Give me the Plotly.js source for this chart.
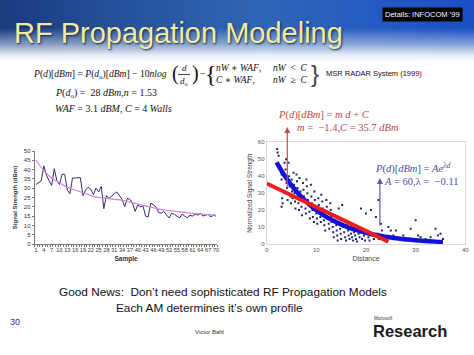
<!DOCTYPE html>
<html>
<head>
<meta charset="utf-8">
<script src="https://cdn.plot.ly/plotly-3.0.1.min.js"></script>
<style>
html,body{margin:0;padding:0;background:#fff;}
#wrap{width:474px;height:355px;position:relative;overflow:hidden;
background:
 linear-gradient(to bottom, rgba(255,255,255,0) 0px, rgba(255,255,255,0) 28px, rgba(215,226,238,0.55) 44px, rgba(240,244,248,0.95) 55px, #ffffff 62px),
 linear-gradient(to right, #1b3a7e 0%, #27559f 30%, #3065b5 55%, #2459c2 80%, #1a4fc6 100%) 0 0/100% 62px no-repeat,
 #ffffff;}
#chart{width:474px;height:355px;}
</style>
</head>
<body>
<div id="wrap"><div id="chart"></div></div>
<script>
// ---- Left chart data: signal strength per sample ----
const samples = [1,2,3,4,5,6,7,8,9,10,11,12,13,14,15,16,17,18,19,20,21,22,23,24,25,26,27,28,29,30,31,32,33,34,35,36,37,38,39,40,41,42,43,44,45,46,47,48,49,50,51,52,53,54,55,56,57,58,59,60,61,62,63,64,65,66,67,68,69,70];
const measured = [32,33,34,42,37,34,31.5,40.5,34,32,37.5,37.5,29,27,35.5,35.5,35.5,35.7,26,29,30.5,29.5,26.5,30,28,31,19,26,24.5,26,27,28,26,24,20,24.5,24,22,17.5,21,20,20.5,15,14.5,22,21,20,17,16.5,17.5,16,14,16.5,16,15,14,16,15,14,15.5,15,16,15.5,16.5,15,15.5,16,14.5,15.5,15];
const fitSamples = [1,4,7,10,13,16,19,22,25,28,31,34,37,40,43,46,49,52,55,58,61,64,67,70];
const fitValues  = [45,39.5,35.5,33,30.5,29,27.5,26,25,24.5,24,23.5,22.5,21.5,20.5,19.5,18.5,18,17.5,17,16.5,16.2,15.8,15.5];
const sampleTicks = [1,4,7,10,13,16,19,22,25,28,31,34,37,40,43,46,49,52,55,58,61,64,67,70];

// ---- Right chart data: normalized signal strength vs distance ----
const dist = [2.1,2.2,2.4,2.6,2.8,3.0,3.0,3.1,3.2,3.0,
 3.6,3.8,3.9,4.0,4.1,4.2,4.2,4.4,4.5,4.6,4.8,4.9,5.0,5.1,5.2,
 5.4,5.5,5.6,5.7,5.8,6.0,6.1,6.2,6.3,6.4,6.5,6.6,6.8,6.9,7.0,7.1,
 7.3,7.4,7.5,7.6,7.8,7.9,8.0,8.1,8.2,8.3,8.5,8.6,8.7,8.9,9.0,9.1,
 9.2,9.3,9.5,9.6,9.7,9.8,10.0,10.1,10.2,10.4,10.5,10.6,10.8,10.9,11.0,
 11.2,11.3,11.4,11.5,11.6,11.8,12.0,12.1,12.2,12.3,12.5,12.6,12.8,12.9,13.0,
 13.1,13.3,13.4,13.5,13.7,13.8,14.0,14.1,14.2,14.3,14.5,14.6,14.8,14.9,15.0,
 15.2,15.3,15.5,15.6,15.8,16.0,16.2,16.4,16.5,16.7,16.9,17.0,17.2,17.4,17.6,17.8,18.0,18.2,
 18.5,18.7,19.0,19.2,19.4,19.6,19.8,20.0,20.2,20.5,20.7,21.0,21.3,21.6,22.0,22.3,22.6,
 22.5,23.0,23.2,23.6,24.0,24.5,25.0,25.5,26.0,26.5,27.5,28.0,29.0,30.0,30.5,31.0,32.0,33.0,34.0,34.5,35.0,35.5];
const strength = [56,54,52,46,44,41,38,27,24,22,
 48,44,50,36,33,30,26,48,40,34,28,24,38,31,27,
 42,35,30,25,21,41,37,33,28,24,20,39,31,26,22,17,
 36,32,28,25,21,18,38,34,30,26,23,19,15,35,28,24,
 20,16,13,31,26,22,18,15,12,27,23,19,16,13,29,
 25,21,18,14,11,8,26,22,19,15,12,9,24,20,16,
 13,10,7,4,17,14,11,8,5,2,21,12,9,6,3,
 23,14,10,7,4,2,11,8,5,3,9,6,4,2,7,5,3,1.5,
 6,4,21,3,9,5,2,18,7,4,2,20,5,3,16,6,3,
 26,12,8,4,2,10,8,5,8,3,5,2,9,14,5,4,3,4,9,5,6,3];
const linFitD = [0,24.5];
const linFitS = [35.7,1.4];
const expFitD = [2,3,4,5,6,7,8,9,10,12,14,16,18,20,22,24,26,28,30,32,34,35.5];
const expFitS = [48.1,43.1,38.6,34.6,31.0,27.8,24.9,22.3,20.0,16.0,12.9,10.3,8.3,6.6,5.3,4.3,3.4,2.8,2.2,1.8,1.4,1.2];

const W = 474, H = 355;
const SERIF = '"Liberation Serif", "DejaVu Serif", serif';
const SANS = '"Liberation Sans", Arial, sans-serif';
function A(text, x, y, o) {
  o = o || {};
  return Object.assign({
    xref:'paper', yref:'paper', x:x/W, y:1-y/H, text:text, showarrow:false,
    xanchor:o.xanchor||'left', yanchor:'middle',
    font:{family:o.family||SANS, size:o.size||10, color:o.color||'#111'}
  }, o.extra||{});
}

const traces = [
  {x:samples, y:measured, type:'scatter', mode:'lines', xaxis:'x', yaxis:'y',
   line:{color:'#2f3270', width:1}, hoverinfo:'skip'},
  {x:fitSamples, y:fitValues, type:'scatter', mode:'lines', xaxis:'x', yaxis:'y',
   line:{color:'#d47ddb', width:1.1, shape:'spline'}, hoverinfo:'skip'},
  {x:dist, y:strength, type:'scatter', mode:'markers', xaxis:'x2', yaxis:'y2',
   marker:{color:'#1f2866', size:2, symbol:'square'}, hoverinfo:'skip'},
  {x:expFitD, y:expFitS, type:'scatter', mode:'lines', xaxis:'x2', yaxis:'y2',
   line:{color:'#1010d8', width:4.5, shape:'spline'}, hoverinfo:'skip'},
  {x:linFitD, y:linFitS, type:'scatter', mode:'lines', xaxis:'x2', yaxis:'y2',
   line:{color:'#ee1c1c', width:4}, hoverinfo:'skip'}
];

const tickFont = {family:SANS, size:6, color:'#333'};
const red = '#c9444a', blue = '#4c4ea0';

const annotations = [
  A('RF Propagation Modeling', 12, 33, {
     extra:{font:{family:SANS, size:29, color:'#f2eca0', shadow:'1px 1px 2px #142850'}}}),
  A('Details: INFOCOM \u201999', 422, 14.5, {xanchor:'center', size:7.5, color:'#ffffff',
     extra:{bgcolor:'#000000', borderpad:2}}),
  // main formula
  A('<i>P</i>(<i>d</i>)[<i>dBm</i>] = <i>P</i>(<i>d</i><sub>o</sub>)[<i>dBm</i>] \u2212 10<i>nlog</i>', 31, 74, {family:SERIF, size:9.6}),
  A('(', 170, 74, {family:SERIF, size:20}),
  A('<i>d</i>', 184, 68, {family:SERIF, size:9, xanchor:'center'}),
  A('<i>d</i><sub>o</sub>', 184, 81, {family:SERIF, size:9, xanchor:'center'}),
  A(')', 190, 74, {family:SERIF, size:20}),
  A('\u2212', 198, 74, {family:SERIF, size:10}),
  A('{', 203, 74, {family:SERIF, size:24}),
  A('<i>nW</i> \u2217 <i>WAF</i>,', 214, 68, {family:SERIF, size:9.5}),
  A('<i>C</i> \u2217 <i>WAF</i>,', 214, 80, {family:SERIF, size:9.5}),
  A('<i>nW</i>  <  <i>C</i>', 271, 68, {family:SERIF, size:9.5}),
  A('<i>nW</i>  \u2265  <i>C</i>', 271, 80, {family:SERIF, size:9.5}),
  A('}', 309, 74, {family:SANS, size:24, color:'#444'}),
  A('MSR RADAR System (1999)', 324, 74, {size:7.5}),
  A('<i>P</i>(<i>d</i><sub>o</sub>) =  28 <i>dBm</i>,<i>n</i> = 1.53', 53, 93, {family:SERIF, size:10}),
  A('<i>WAF</i> = 3.1 <i>dBM</i>, <i>C</i> = 4 <i>Walls</i>', 53, 108, {family:SERIF, size:10}),
  // right chart labels
  A('<i>P</i>(<i>d</i>)[<i>dBm</i>] = <i>m d</i> + <i>C</i>', 276, 115, {family:SERIF, size:10.5, color:red}),
  A('<i>m</i> =  \u22121.4,<i>C</i> = 35.7 <i>dBm</i>', 295, 128, {family:SERIF, size:10.5, color:red}),
  A('<i>P</i>(<i>d</i>)[<i>dBm</i>] = <i>Ae</i><sup>\u03bb<i>d</i></sup>', 373, 168, {family:SERIF, size:10.5, color:blue}),
  A('<i>A</i> = 60,\u03bb =  \u22120.11', 382, 181, {family:SERIF, size:10.5, color:blue}),
  {xref:'x2', yref:'y2', axref:'x2', ayref:'y2', x:4.15, y:69, ax:4.15, ay:31.9, text:'',
   showarrow:true, arrowhead:2, arrowsize:1, arrowwidth:1.2, arrowcolor:'#c0504d'},
  {xref:'x2', yref:'y2', axref:'x2', ayref:'y2', x:22.8, y:38.9, ax:22.8, ay:10, text:'',
   showarrow:true, arrowhead:2, arrowsize:1, arrowwidth:1.2, arrowcolor:'#5b5ea6'},
  // bottom texts
  A('Good News:  Don\u2019t need sophisticated RF Propagation Models', 57, 292, {size:11.8}),
  A('Each AM determines it\u2019s own profile', 114, 308, {size:11.8}),
  A('30', 8, 322, {size:9, color:'#2b2bb0'}),
  A('Victor Bahl', 209, 332, {size:6, xanchor:'center', color:'#333'}),
  A('Microsoft', 372, 318.5, {size:4.5, color:'#333'}),
  A('<b>Research</b>', 371, 331, {size:16.5, color:'#1a1a1a'})
];

const shapes = [
  {type:'line', xref:'paper', yref:'paper', x0:178/W, x1:190/W, y0:1-74.5/H, y1:1-74.5/H,
   line:{color:'#111', width:0.8}}
];

const layout = {
  width:W, height:H, margin:{l:0,r:0,t:0,b:0},
  paper_bgcolor:'rgba(0,0,0,0)', plot_bgcolor:'#ffffff',
  showlegend:false,
  xaxis:{domain:[34.7/W, 217.3/W], range:[0.5,70.5], tickmode:'array', tickvals:sampleTicks,
    ticktext:sampleTicks.map(String), tickfont:{family:SANS, size:5.6, color:'#333'}, tickangle:0,
    ticks:'', showgrid:false, zeroline:false,
    showline:true, linecolor:'#777', linewidth:1,
    minor:{tick0:0.5, dtick:1, ticks:'outside', ticklen:2, tickcolor:'#777', showgrid:false},
    title:{text:'<b>Sample</b>', font:{family:SANS, size:6.5, color:'#333'}, standoff:4},
    anchor:'y', fixedrange:true},
  yaxis:{domain:[1-244/H, 1-151/H], range:[0,50], dtick:5, tickfont:tickFont, ticks:'outside',
    ticklen:2, tickcolor:'#777', showgrid:false, zeroline:false, showline:true, linecolor:'#777', linewidth:1,
    title:{text:'<b>Signal Strength (dBm)</b>', font:{family:SANS, size:6, color:'#333'}, standoff:5},
    anchor:'x', fixedrange:true},
  xaxis2:{domain:[266.7/W, 465.3/W], range:[0,40], dtick:10, tickfont:{family:SANS, size:6, color:'#555'},
    ticks:'', showgrid:false, zeroline:false, showline:true, mirror:true, linecolor:'#d9d9d9', linewidth:1,
    title:{text:'Distance', font:{family:SANS, size:7, color:'#444'}, standoff:3},
    anchor:'y2', fixedrange:true},
  yaxis2:{domain:[1-244/H, 1-142.3/H], range:[0,60], dtick:10, tickfont:{family:SANS, size:6, color:'#555'},
    ticks:'', showgrid:false, zeroline:false, showline:true, mirror:true, linecolor:'#d9d9d9', linewidth:1,
    title:{text:'Normalized Signal Strength', font:{family:SANS, size:6.5, color:'#444'}, standoff:4},
    anchor:'x2', fixedrange:true},
  annotations:annotations, shapes:shapes
};

Plotly.newPlot('chart', traces, layout, {staticPlot:true, displayModeBar:false});
</script>
</body>
</html>
